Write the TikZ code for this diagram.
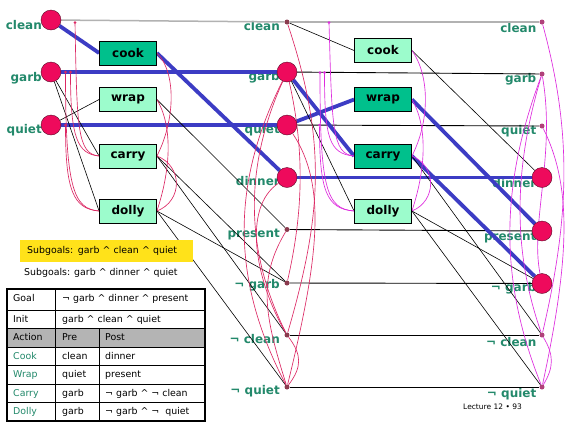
\documentclass[tikz,border=0pt]{standalone}
\usepackage{fontspec}
\setmainfont{DejaVu Sans}
\usetikzlibrary{backgrounds}
\definecolor{hot}{HTML}{EE0A5C}
\definecolor{ring}{HTML}{5A0A28}
\definecolor{deep}{HTML}{00C08C}
\definecolor{lite}{HTML}{9CFCCC}
\definecolor{propgreen}{HTML}{23896B}
\definecolor{planblue}{HTML}{3C3CC4}
\definecolor{crim}{HTML}{DC2864}
\definecolor{mag}{HTML}{DE2ADE}
\definecolor{dotA}{HTML}{8B3A4E}
\definecolor{dotB}{HTML}{B0407A}
\definecolor{gold}{HTML}{FFE21A}
\definecolor{rowgray}{HTML}{B4B4B4}

\begin{document}
\begin{tikzpicture}[x=1pt, y=-1pt,
    act/.style={draw, line width=0.8pt, fill=lite, minimum width=57pt,
                minimum height=24pt, inner sep=0pt,
                font=\fontsize{12}{14}\selectfont\bfseries},
    actsel/.style={act, fill=deep},
    goalprop/.style={circle, draw=ring, fill=hot, minimum size=20pt, inner sep=0pt},
    propdot/.style={circle, fill=dotA, minimum size=5pt, inner sep=0pt},
    plabel/.style={anchor=base east, inner sep=0pt, text=propgreen,
                   font=\fontsize{12}{14}\selectfont\bfseries},
    planline/.style={planblue, line width=3.8pt},
    wire/.style={black, line width=0.6pt},
    persist/.style={black, line width=0.9pt},
    mutexA/.style={crim, line width=0.65pt},
    mutexB/.style={mag, line width=0.65pt},
    tickA/.style={circle, fill=crim, minimum size=3pt, inner sep=0pt},
    tickB/.style={circle, fill=mag, minimum size=3pt, inner sep=0pt},
    cell/.style={anchor=west, inner sep=0pt, text height=6.8pt, text depth=1.8pt,
                 font=\fontsize{9.4}{11}\selectfont} ]
  \useasboundingbox (0,0) rectangle (584,432);

  % level 0 propositions
  \node[goalprop] (clean0) at (51,20) {};
  \node[goalprop] (garb0)  at (51,72) {};
  \node[goalprop] (quiet0) at (51,125) {};

  % level 1 actions
  \node[actsel] (cookA)  at (128,53)  {cook};
  \node[act]    (wrapA)  at (128,99.5) {wrap};
  \node[act]    (carryA) at (128,156) {carry};
  \node[act]    (dollyA) at (128,211) {dolly};

  % level 1 propositions
  \node[propdot]  (clean1)   at (287,22)  {};
  \node[goalprop] (garb1)    at (287,72)  {};
  \node[goalprop] (quiet1)   at (287,125) {};
  \node[goalprop] (dinner1)  at (287,177.5) {};
  \node[propdot]  (present1) at (287,229.5) {};
  \node[propdot]  (ngarb1)   at (287,283) {};
  \node[propdot]  (nclean1)  at (287,335) {};
  \node[propdot]  (nquiet1)  at (287,387) {};

  % level 2 actions
  \node[act]    (cookB)  at (383,50.5) {cook};
  \node[actsel] (wrapB)  at (383,99.5) {wrap};
  \node[actsel] (carryB) at (383,156) {carry};
  \node[act]    (dollyB) at (383,211) {dolly};

  % level 2 propositions
  \node[propdot, fill=dotB] (clean2)   at (542,22)  {};
  \node[propdot, fill=dotB] (garb2)    at (542,74)  {};
  \node[propdot, fill=dotB] (quiet2)   at (542,126) {};
  \node[goalprop]           (dinner2)  at (542,177.5) {};
  \node[goalprop]           (present2) at (542,231) {};
  \node[goalprop]           (ngarb2)   at (542,283.5) {};
  \node[propdot, fill=dotB] (nclean2)  at (542,335) {};
  \node[propdot, fill=dotB] (nquiet2)  at (542,387) {};

  % mutex ticks on the no-op lines
  \node[tickA] (cn1) at (75,22.5) {};
  \node[tickA] (gn1) at (65.5,72) {};
  \node[tickA] (gn2) at (70.5,72) {};
  \node[tickA] (qn1) at (65.5,125) {};
  \node[tickB] (cn2) at (329,22.5) {};
  \node[tickB] (gn3) at (320,72.5) {};
  \node[tickB] (gn4) at (324.5,72.5) {};
  \node[tickB] (qn2) at (319.5,125) {};

  \begin{scope}[on background layer]
    \fill[white] (0,0) rectangle (584,432);
    % labels
    \node[plabel] (lclean0) at ([xshift=-9pt,yshift=-9pt]clean0.center) {clean};
    \node[plabel] (lgarb0)  at ([xshift=-9pt,yshift=-9pt]garb0.center)  {garb};
    \node[plabel] (lquiet0) at ([xshift=-9pt,yshift=-8pt]quiet0.center) {quiet};
    \node[plabel] (lclean1)   at ([xshift=-7pt,yshift=-8pt]clean1.center)   {clean};
    \node[plabel] (lgarb1)    at ([xshift=-7pt,yshift=-8pt]garb1.center)    {garb};
    \node[plabel] (lquiet1)   at ([xshift=-7pt,yshift=-8pt]quiet1.center)   {quiet};
    \node[plabel] (ldinner1)  at ([xshift=-7pt,yshift=-7.5pt]dinner1.center)  {dinner};
    \node[plabel] (lpresent1) at ([xshift=-7pt,yshift=-7.5pt]present1.center) {present};
    \node[plabel] (lngarb1)   at ([xshift=-7pt,yshift=-5pt]ngarb1.center)   {¬ garb};
    \node[plabel] (lnclean1)  at ([xshift=-7pt,yshift=-8pt]nclean1.center)  {¬ clean};
    \node[plabel] (lnquiet1)  at ([xshift=-7pt,yshift=-7pt]nquiet1.center)  {¬ quiet};
    \node[plabel] (lclean2)   at ([xshift=-5.5pt,yshift=-10pt]clean2.center)   {clean};
    \node[plabel] (lgarb2)    at ([xshift=-5.5pt,yshift=-8pt]garb2.center)    {garb};
    \node[plabel] (lquiet2)   at ([xshift=-5.5pt,yshift=-8pt]quiet2.center)   {quiet};
    \node[plabel] (ldinner2)  at ([xshift=-5.5pt,yshift=-10pt]dinner2.center)  {dinner};
    \node[plabel] (lpresent2) at ([xshift=-5.5pt,yshift=-9pt]present2.center) {present};
    \node[plabel] (lngarb2)   at ([xshift=-5.5pt,yshift=-8pt]ngarb2.center)   {¬ garb};
    \node[plabel] (lnclean2)  at ([xshift=-5.5pt,yshift=-11pt]nclean2.center)  {¬ clean};
    \node[plabel] (lnquiet2)  at ([xshift=-5.5pt,yshift=-10pt]nquiet2.center)  {¬ quiet};

    % no-op lines
    \draw[gray!60, line width=1.5pt] (clean0) -- (clean1);
    \draw[planline] (garb0)  -- (garb1);
    \draw[planline] (quiet0) -- (quiet1);
    \draw[gray!60, line width=1.5pt] (clean1) -- (clean2);
    \draw[persist] (garb1)    -- (garb2);
    \draw[persist] (quiet1)   -- (quiet2);
    \draw[planline] (dinner1) -- (dinner2);
    \draw[persist] (present1) -- (present2);
    \draw[persist] (ngarb1)   -- (ngarb2);
    \draw[persist] (nclean1)  -- (nclean2);
    \draw[persist] (nquiet1)  -- (nquiet2);

    % level 1 action edges
    \draw[planline] (clean0) -- (cookA.west);
    \draw[planline] (cookA.east) -- (dinner1);
    \draw[wire] (quiet0) -- (wrapA.west);
    \draw[wire] (garb0)  -- (carryA.west);
    \draw[wire] (garb0)  -- (dollyA.west);
    \draw[wire] (wrapA.east)  -- (present1);
    \draw[wire] (carryA.east) -- (ngarb1);
    \draw[wire] (carryA.east) -- (nclean1);
    \draw[wire] (dollyA.east) -- (ngarb1);
    \draw[wire] (dollyA.east) -- (nquiet1);

    % level 2 action edges
    \draw[wire] (clean1) -- (cookB.west);
    \draw[planline] (quiet1) -- (wrapB.west);
    \draw[planline] (garb1)  -- (carryB.west);
    \draw[wire] (garb1) -- (dollyB.west);
    \draw[wire] (cookB.east) -- (dinner2);
    \draw[planline] (wrapB.east)  -- (present2);
    \draw[planline] (carryB.east) -- (ngarb2);
    \draw[wire] (carryB.east) -- (nclean2);
    \draw[wire] (dollyB.east) -- (ngarb2);
    \draw[wire] (dollyB.east) -- (nquiet2);

    % action mutexes, level 1
    \draw[mutexA] (cn1) .. controls +(2,105) and +(-22,-2) .. (carryA.west);
    \draw[mutexA] (gn2) .. controls +(0,65) and +(-22,-2) .. (carryA.west);
    \draw[mutexA] (gn1) .. controls +(0,115) and +(-26,-2) .. (dollyA.west);
    \draw[mutexA] (qn1) .. controls +(0,65) and +(-26,-2) .. (dollyA.west);
    \draw[mutexA] (cookA.east) .. controls +(20,20) and +(18,-35) .. (carryA.east);
    \draw[mutexA] (wrapA.east) .. controls +(15,25) and +(15,-45) .. (dollyA.east);
    \draw[mutexA] (carryA.east) .. controls +(26,10) and +(26,-10) .. (dollyA.east);

    % proposition mutexes, level 1
    \draw[mutexA] (clean1) .. controls +(40,120) and +(35,-120) .. (nclean1);
    \draw[mutexA] (garb1) .. controls +(18,80) and +(16,-70) .. (ngarb1);
    \draw[mutexA] (garb1) .. controls +(-45,100) and +(-40,-80) .. (nclean1);
    \draw[mutexA] (garb1) .. controls +(-60,120) and +(-52,-100) .. (nquiet1);
    \draw[mutexA] (quiet1) .. controls +(40,60) and +(32,-130) .. (nquiet1);
    \draw[mutexA] (dinner1) .. controls +(-45,30) and +(-32,-55) .. (nclean1);
    \draw[mutexA] (present1) .. controls +(-30,50) and +(-22,-70) .. (nquiet1);
    \draw[mutexA] (nclean1) .. controls +(15,20) and +(15,-20) .. (nquiet1);

    % action mutexes, level 2
    \draw[mutexB] (cn2) .. controls +(3,105) and +(-22,-2) .. (carryB.west);
    \draw[mutexB] (gn4) .. controls +(0,65) and +(-25,-2) .. (carryB.west);
    \draw[mutexB] (gn3) .. controls +(0,115) and +(-28,-2) .. (dollyB.west);
    \draw[mutexB] (qn2) .. controls +(0,65) and +(-28,-2) .. (dollyB.west);
    \draw[mutexB] (cookB.east) .. controls +(18,25) and +(18,-35) .. (carryB.east);
    \draw[mutexB] (wrapB.east) .. controls +(15,25) and +(15,-45) .. (dollyB.east);
    \draw[mutexB] (carryB.east) .. controls +(25,10) and +(25,-10) .. (dollyB.east);

    % proposition mutexes, level 2
    \draw[mutexB] (clean2) .. controls +(30,110) and +(28,-120) .. (nclean2);
    \draw[mutexB] (garb2) .. controls +(14,80) and +(-12,-60) .. (ngarb2);
    \draw[mutexB] (garb2) .. controls +(-30,100) and +(-28,-80) .. (nclean2);
    \draw[mutexB] (garb2) .. controls +(-45,120) and +(-40,-100) .. (nquiet2);
    \draw[mutexB] (quiet2) .. controls +(30,60) and +(28,-130) .. (nquiet2);
    \draw[mutexB] (nclean2) .. controls +(12,20) and +(12,-20) .. (nquiet2);
  \end{scope}

  % subgoals
  \node[fill=gold, anchor=west, text width=159pt, inner xsep=7pt, inner ysep=0pt,
        minimum height=22pt, font=\fontsize{9.4}{11}\selectfont]
        (subA) at (20,251) {Subgoals: garb \textasciicircum{} clean \textasciicircum{} quiet};
  \node[cell] (subB) at (24,273) {Subgoals: garb \textasciicircum{} dinner \textasciicircum{} quiet};

  % table
  \fill[rowgray] (7,328) rectangle (205,347);
  \draw[line width=0.7pt] (7,310) -- (205,310) (7,328) -- (205,328)
        (7,347) -- (205,347) (7,365) -- (205,365) (7,384) -- (205,384)
        (7,402.5) -- (205,402.5) (55,289) -- (55,421) (99,328) -- (99,421);
  \draw[line width=1.6pt] (7,289) rectangle (205,421);
  \node[cell] (goal)  at (13,299) {Goal};
  \node[cell] (goalv) at (62,299) {¬ garb \textasciicircum{} dinner \textasciicircum{} present};
  \node[cell] (init)  at (13,319.5) {Init};
  \node[cell] (initv) at (62,319.5) {garb \textasciicircum{} clean \textasciicircum{} quiet};
  \node[cell] (hact)  at (13,337.5) {Action};
  \node[cell] (hpre)  at (62,337.5) {Pre};
  \node[cell] (hpost) at (105,337.5) {Post};
  \node[cell, text=propgreen] (tcook)  at (13,356.5) {Cook};
  \node[cell] (pcook)  at (62,356.5) {clean};
  \node[cell] (ecook)  at (105,356.5) {dinner};
  \node[cell, text=propgreen] (twrap)  at (13,375) {Wrap};
  \node[cell] (pwrap)  at (62,375) {quiet};
  \node[cell] (ewrap)  at (105,375) {present};
  \node[cell, text=propgreen] (tcarry) at (13,393.5) {Carry};
  \node[cell] (pcarry) at (62,393.5) {garb};
  \node[cell] (ecarry) at (105,393.5) {¬ garb \textasciicircum{} ¬ clean};
  \node[cell, text=propgreen] (tdolly) at (13,411.5) {Dolly};
  \node[cell] (pdolly) at (62,411.5) {garb};
  \node[cell] (edolly) at (105,411.5) {¬ garb \textasciicircum{} ¬ \ quiet};

  \node[anchor=west, inner sep=0pt, font=\fontsize{7.5}{9}\selectfont]
        (lecture) at (463,407) {Lecture 12 • 93};
\end{tikzpicture}
\end{document}
